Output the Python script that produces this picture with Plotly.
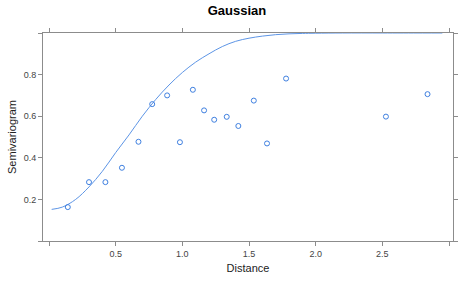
import plotly.graph_objects as go

# empirical semivariogram points
dist = [0.141, 0.300, 0.423, 0.547, 0.671, 0.774, 0.886, 0.982, 1.079, 1.163,
        1.239, 1.333, 1.420, 1.536, 1.635, 1.778, 2.527, 2.839]
gamma = [0.163, 0.283, 0.283, 0.352, 0.477, 0.658, 0.700, 0.475, 0.727, 0.628,
         0.583, 0.597, 0.553, 0.675, 0.469, 0.781, 0.598, 0.706]

# fitted Gaussian model curve
curve_h = [0.02, 0.1, 0.2, 0.3, 0.4, 0.5, 0.6, 0.7, 0.8, 0.9, 1.0, 1.1, 1.2,
           1.3, 1.4, 1.5, 1.6, 1.7, 1.8, 1.9, 2.0, 2.2, 2.5, 2.8, 2.95]
curve_g = [0.152, 0.163, 0.200, 0.260, 0.335, 0.425, 0.510, 0.600, 0.680,
           0.750, 0.810, 0.860, 0.900, 0.935, 0.960, 0.975, 0.985, 0.992,
           0.996, 0.998, 0.999, 1.0, 1.0, 1.0, 1.0]

x_ticks = [0, 0.5, 1.0, 1.5, 2.0, 2.5, 3.0]
x_labels = ["", "0.5", "1.0", "1.5", "2.0", "2.5", ""]
y_ticks = [0, 0.2, 0.4, 0.6, 0.8, 1.0]
y_labels = ["", "0.2", "0.4", "0.6", "0.8", ""]

line_blue = "#5d95e6"
pt_blue = "#3f80e0"
grey = "#8c8c8c"

fig = go.Figure()
fig.add_trace(go.Scatter(x=curve_h, y=curve_g, mode="lines",
                         line=dict(color=line_blue, width=1, shape="spline"),
                         hoverinfo="skip", cliponaxis=True))
fig.add_trace(go.Scatter(x=dist, y=gamma, mode="markers",
                         marker=dict(symbol="circle-open", size=5,
                                     color=pt_blue, line=dict(width=1, color=pt_blue))))

fig.update_layout(
    width=474, height=284,
    margin=dict(l=38, r=21, t=33, b=37),
    paper_bgcolor="white", plot_bgcolor="white",
    showlegend=False,
    font=dict(family="Liberation Sans, Arial, sans-serif", color="#333333"),
    title=dict(text="<b>Gaussian</b>", x=0.5, xanchor="center",
               y=1 - 10 / 284, yanchor="middle",
               font=dict(size=13, color="#000000")),
)
fig.update_xaxes(range=[-0.045, 3.03], tickvals=x_ticks, ticktext=x_labels,
                 ticks="outside", ticklen=4, tickcolor=grey, tickwidth=1,
                 showline=True, linecolor=grey, linewidth=1, mirror="ticks",
                 showgrid=False, zeroline=False,
                 tickfont=dict(size=9, color="#444444"),
                 title=dict(text="Distance", font=dict(size=11, color="#222222"),
                            standoff=6))
fig.update_yaxes(range=[0, 1.0], tickvals=y_ticks, ticktext=y_labels,
                 ticks="outside", ticklen=4, tickcolor=grey, tickwidth=1,
                 showline=True, linecolor=grey, linewidth=1, mirror="ticks",
                 showgrid=False, zeroline=False,
                 tickfont=dict(size=9, color="#444444"),
                 title=dict(text="Semivariogram", font=dict(size=11, color="#222222"),
                            standoff=4))

fig.write_html("out.html")
